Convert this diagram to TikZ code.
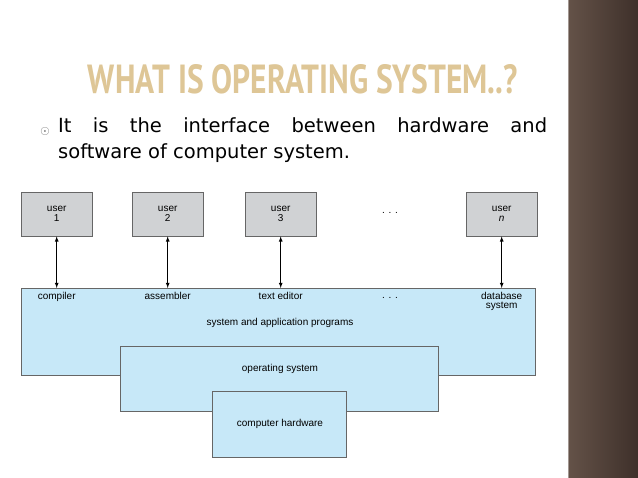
\documentclass[tikz,border=0pt]{standalone}
\usepackage{fontspec}
\setmainfont{Liberation Sans}
\newfontfamily\titlefont{PT Sans}
\newfontfamily\bodyfont{DejaVu Sans}
\definecolor{gold}{RGB}{222,198,150}
\definecolor{boxblue}{RGB}{199,232,248}
\definecolor{boxgray}{RGB}{208,210,212}
\definecolor{wood}{RGB}{62,48,42}
\definecolor{woodl}{RGB}{100,82,72}
\begin{document}
\begin{tikzpicture}[x=1pt,y=-1pt,
  ubox/.style={draw=black!60,fill=boxgray,minimum width=71pt,minimum height=44pt,inner sep=0pt,align=center,font=\fontsize{10}{10}\selectfont,anchor=north west},
  bbox/.style={draw=black!60,fill=boxblue,inner sep=0pt,anchor=north west},
  lbl/.style={font=\fontsize{10}{9}\selectfont,align=center,inner sep=0pt},
  conn/.style={thick,<->,>=latex}]
\useasboundingbox (0,0) rectangle (638,478);
\fill[white] (0,0) rectangle (638,478);
\shade[left color=woodl,right color=wood] (568,0) rectangle (638,478);
\draw[woodl!60!white] (568,0) -- (568,478);
% title
\node[text=gold,font=\titlefont\bfseries,inner sep=0pt] (title) at (303,79) {\resizebox{430pt}{29pt}{WHAT IS OPERATING SYSTEM..?}};
% bullet text
\node[font=\fontsize{13}{13}\selectfont,text=black!70,inner sep=0pt] (bul) at (45,132) {$\odot$};
\node[anchor=north west,inner sep=0pt,font=\bodyfont\fontsize{19.5}{26}\selectfont,align=left] (txt) at (58,117) {\makebox[489pt][s]{It\hfill is\hfill the\hfill interface\hfill between\hfill hardware\hfill and}\\software of computer system.};
% boxes
\node[bbox,minimum width=514pt,minimum height=87pt] (app) at (21,288) {};
\node[bbox,minimum width=318pt,minimum height=65pt] (os) at (120,346) {};
\node[bbox,minimum width=134pt,minimum height=66pt] (hw) at (212,391) {};
\node[ubox] (u1) at (21,192) {user\\1};
\node[ubox] (u2) at (132,192) {user\\2};
\node[ubox] (u3) at (245,192) {user\\3};
\node[ubox] (un) at (466,192) {user\\\textit{n}};
\node[lbl] (d1) at (390,213) {. . .};
\node[lbl,anchor=north] (c1) at (u1.south|-0,292) {compiler};
\node[lbl,anchor=north] (c2) at (u2.south|-0,292) {assembler};
\node[lbl,anchor=north] (c3) at (u3.south|-0,292) {text editor};
\node[lbl] (d2) at (390,298) {. . .};
\node[lbl,anchor=north] (c4) at (un.south|-0,292) {database\\system};
\node[lbl] (sap) at (280,323) {system and application programs};
\node[lbl] (ost) at (280,369) {operating system};
\node[lbl] (hwt) at (280,424) {computer hardware};
\foreach \u in {u1,u2,u3,un}
  \draw[conn] (\u.south) -- (\u.south|-app.north);
\end{tikzpicture}
\end{document}
